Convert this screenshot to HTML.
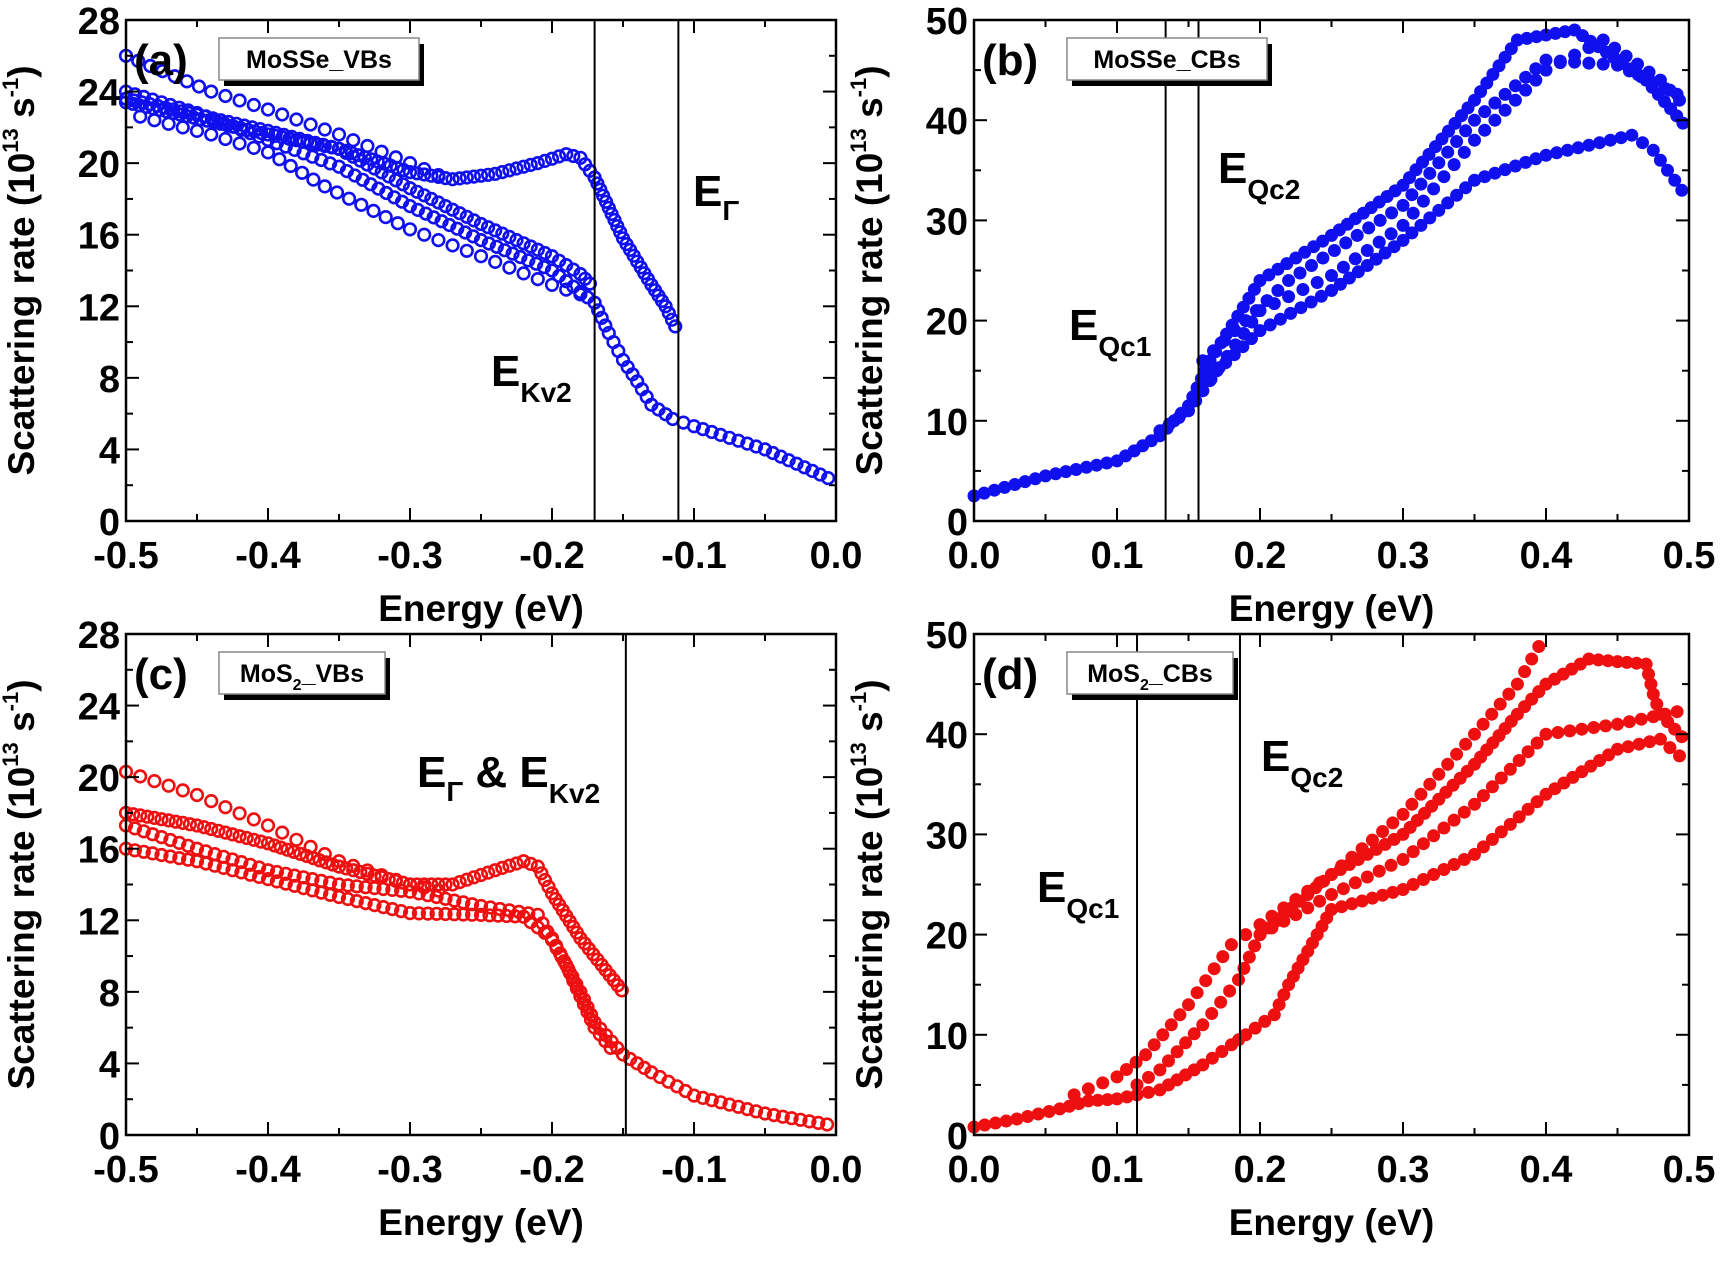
<!DOCTYPE html>
<html><head><meta charset="utf-8"><style>
body{margin:0;background:#fff;}
svg{display:block;font-family:"Liberation Sans",Arial,sans-serif;font-weight:bold;}
</style></head><body>
<svg id="s" width="1720" height="1265" viewBox="0 0 1720 1265" xmlns="http://www.w3.org/2000/svg"></svg>
<script>
const S=document.getElementById('s');let out='';
function P(o){
 const {x0,x1,y0,y1,xmin,xmax,ymax,ystep,lines,series,color,open,tag,leg,legW,ann}=o;
 const X=v=>x0+(v-xmin)/(xmax-xmin)*(x1-x0), Y=v=>y1-v/ymax*(y1-y0);
 let g='';
 for(const sr of series){
  const pts=sr.p, sp=sr.s||7;
  for(let i=0;i<pts.length-1;i++){
   const ax=X(pts[i][0]),ay=Y(pts[i][1]),bx=X(pts[i+1][0]),by=Y(pts[i+1][1]);
   const d=Math.hypot(bx-ax,by-ay),n=Math.max(1,Math.round(d/sp));
   for(let k=0;k<n;k++){const t=k/n;const cx=ax+(bx-ax)*t,cy=ay+(by-ay)*t;
    if(cx<x0-3||cx>x1+3||cy<y0-3)continue;
    g+=open?`<circle cx="${cx.toFixed(1)}" cy="${cy.toFixed(1)}" r="5.8" fill="none" stroke="${color}" stroke-width="2.6"/>`:`<circle cx="${cx.toFixed(1)}" cy="${cy.toFixed(1)}" r="6.5" fill="${color}"/>`;}
  }
 }
 for(const l of lines)g+=`<line x1="${X(l)}" y1="${y0}" x2="${X(l)}" y2="${y1}" stroke="#000" stroke-width="2"/>`;
 g+=`<rect x="${x0}" y="${y0}" width="${x1-x0}" height="${y1-y0}" fill="none" stroke="#000" stroke-width="2.5"/>`;
 for(let i=0;i<=10;i++){const v=xmin+(xmax-xmin)*i/10,px=X(v),L=i%2?7:13;
  g+=`<line x1="${px}" y1="${y1}" x2="${px}" y2="${y1-L}" stroke="#000" stroke-width="2"/><line x1="${px}" y1="${y0}" x2="${px}" y2="${y0+L}" stroke="#000" stroke-width="2"/>`;
  if(i%2==0)g+=`<text x="${px}" y="${y1+47}" font-size="38" text-anchor="middle">${v.toFixed(1).replace('-0.0','0.0')}</text>`;}
 const ny=Math.round(ymax/ystep)*2;
 for(let i=0;i<=ny;i++){const v=ymax*i/ny,py=Y(v),L=i%2?7:13;
  g+=`<line x1="${x0}" y1="${py}" x2="${x0+L}" y2="${py}" stroke="#000" stroke-width="2"/><line x1="${x1}" y1="${py}" x2="${x1-L}" y2="${py}" stroke="#000" stroke-width="2"/>`;
  if(i%2==0)g+=`<text x="${x0-6}" y="${py+14}" font-size="38" text-anchor="end">${Math.round(v)}</text>`;}
 g+=`<text x="${(x0+x1)/2}" y="${y1+100}" font-size="37" text-anchor="middle">Energy (eV)</text>`;
 const yc=(y0+y1)/2,tx=x0-92;
 g+=`<text transform="translate(${tx},${yc}) rotate(-90)" font-size="37" text-anchor="middle">Scattering rate (10<tspan font-size="22" dy="-16">13</tspan><tspan dy="16"> s</tspan><tspan font-size="22" dy="-16">-1</tspan><tspan dy="16">)</tspan></text>`;
 g+=`<text x="${x0+8}" y="${y0+55}" font-size="44">${tag}</text>`;
 const lx=x0+93,ly=y0+18;
 g+=`<rect x="${lx+5}" y="${ly+6}" width="${legW}" height="42" fill="#000"/><rect x="${lx}" y="${ly}" width="${legW}" height="42" fill="#fff" stroke="#888" stroke-width="1.5"/><text x="${lx+legW/2}" y="${ly+30}" font-size="25" text-anchor="middle">${leg}</text>`;
 for(const a of ann)g+=`<text x="${a[0]}" y="${a[1]}" font-size="44">${a[2]}</text>`;
 out+=g;
}
const blue='#1010ee',red='#ee1010';
P({x0:126,x1:836,y0:20,y1:521,xmin:-0.5,xmax:0,ymax:28,ystep:4,lines:[-0.17,-0.111],color:blue,open:true,tag:'(a)',leg:'MoSSe_VBs',legW:200,
 ann:[[693,206,'E<tspan font-size="28" dy="14">Γ</tspan>'],[491,386,'E<tspan font-size="28" dy="16">Kv2</tspan>']],
 series:[
 {p:[[-0.5,24],[-0.45,22.8],[-0.4,21.3],[-0.35,19.8],[-0.3,17.6],[-0.25,15.7],[-0.2,14],[-0.17,12.2],[-0.16,10.5],[-0.15,9],[-0.14,7.8],[-0.13,6.5],[-0.115,5.7],[-0.1,5.3],[-0.05,4],[0,2.2]],s:9},
 {p:[[-0.5,23.6],[-0.4,21.8],[-0.35,20.8],[-0.3,18.6],[-0.25,16.6],[-0.2,14.8],[-0.18,13.8],[-0.17,13]],s:8},
 {p:[[-0.5,23.4],[-0.4,21.6],[-0.35,20.8],[-0.3,19.5],[-0.27,19.1],[-0.24,19.4],[-0.21,20],[-0.19,20.5],[-0.18,20.3],[-0.17,19.2],[-0.16,17.5],[-0.15,15.8],[-0.14,14.5],[-0.13,13.2],[-0.12,12],[-0.111,10.5]],s:7},
 {p:[[-0.5,26],[-0.44,24],[-0.4,23],[-0.35,21.6],[-0.3,20],[-0.27,19]],s:14},
 {p:[[-0.49,22.6],[-0.44,21.6],[-0.4,20.6],[-0.36,18.7],[-0.3,16.3],[-0.25,14.8],[-0.2,13.2],[-0.17,12.4]],s:14}]});
P({x0:974,x1:1689,y0:20,y1:521,xmin:0,xmax:0.5,ymax:50,ystep:10,lines:[0.134,0.157],color:blue,open:false,tag:'(b)',leg:'MoSSe_CBs',legW:200,
 ann:[[1218,183,'E<tspan font-size="28" dy="16">Qc2</tspan>'],[1069,340,'E<tspan font-size="28" dy="16">Qc1</tspan>']],
 series:[
 {p:[[0,2.5],[0.05,4.5],[0.1,6],[0.13,8.5],[0.15,11.5],[0.165,16],[0.2,24],[0.25,28.5],[0.3,33.5],[0.35,42],[0.38,48],[0.42,49],[0.47,44],[0.5,39]],s:10},
 {p:[[0.13,9],[0.15,11],[0.17,15],[0.2,19],[0.25,23],[0.3,28],[0.35,34],[0.4,36.5],[0.46,38.5],[0.475,37],[0.49,34],[0.5,32]],s:11},
 {p:[[0.16,16],[0.22,24],[0.3,31.5],[0.35,40],[0.4,46],[0.45,45.5],[0.5,42]],s:14},
 {p:[[0.16,13],[0.2,21],[0.25,24.5],[0.3,29.5],[0.35,38],[0.4,45],[0.44,48],[0.48,44],[0.5,41]],s:15}]});
P({x0:126,x1:836,y0:634,y1:1135,xmin:-0.5,xmax:0,ymax:28,ystep:4,lines:[-0.148],color:red,open:true,tag:'(c)',leg:'MoS<tspan font-size="16" dy="8">2</tspan><tspan dy="-8">_VBs</tspan>',legW:166,
 ann:[[417,787,'E<tspan font-size="28" dy="14">Γ</tspan><tspan dy="-14"> &amp; E</tspan><tspan font-size="28" dy="16">Kv2</tspan>']],
 series:[
 {p:[[-0.5,16],[-0.45,15.3],[-0.4,14.3],[-0.35,13.3],[-0.3,12.4],[-0.25,12.3],[-0.22,12.2],[-0.2,11],[-0.18,8],[-0.17,6.3],[-0.15,4.5],[-0.13,3.5],[-0.1,2.2],[-0.05,1.2],[0,0.5]],s:9},
 {p:[[-0.5,17.3],[-0.45,16],[-0.4,14.8],[-0.35,14],[-0.3,13.6],[-0.25,12.8],[-0.21,12.3],[-0.19,9.5],[-0.17,6],[-0.155,4.5]],s:9},
 {p:[[-0.5,18],[-0.45,17.3],[-0.4,16.3],[-0.35,15],[-0.3,14],[-0.27,14],[-0.24,14.8],[-0.22,15.3],[-0.21,15],[-0.2,13.5],[-0.18,11],[-0.165,9.5],[-0.148,7.8]],s:7},
 {p:[[-0.5,20.3],[-0.45,19],[-0.4,17.3],[-0.35,15.3],[-0.3,14],[-0.27,13.5]],s:15}]});
P({x0:974,x1:1689,y0:634,y1:1135,xmin:0,xmax:0.5,ymax:50,ystep:10,lines:[0.114,0.186],color:red,open:false,tag:'(d)',leg:'MoS<tspan font-size="16" dy="8">2</tspan><tspan dy="-8">_CBs</tspan>',legW:166,
 ann:[[1261,771,'E<tspan font-size="28" dy="16">Qc2</tspan>'],[1037,902,'E<tspan font-size="28" dy="16">Qc1</tspan>']],
 series:[
 {p:[[0,0.8],[0.03,1.6],[0.06,2.6],[0.08,3.4],[0.1,3.6],[0.114,4],[0.13,4.5],[0.16,7],[0.18,9],[0.19,10],[0.21,12],[0.22,15],[0.23,17.5],[0.24,20],[0.25,22.5],[0.3,24.5],[0.35,28],[0.4,34],[0.45,38.5],[0.48,39.5],[0.5,37]],s:11},
 {p:[[0.07,4],[0.1,5.8],[0.12,8],[0.15,13],[0.18,19],[0.2,21],[0.25,26],[0.3,32],[0.35,40],[0.38,45],[0.4,50]],s:14},
 {p:[[0.114,5],[0.13,6.5],[0.16,11],[0.185,15.5],[0.2,20],[0.25,24],[0.3,27.5],[0.35,33],[0.4,40],[0.45,41],[0.5,42.5]],s:13},
 {p:[[0.2,20],[0.25,26],[0.3,30],[0.35,37],[0.38,42],[0.4,45],[0.43,47.5],[0.47,47],[0.475,44],[0.48,42],[0.5,39]],s:10}]});
S.innerHTML=out;
</script>
</body></html>
